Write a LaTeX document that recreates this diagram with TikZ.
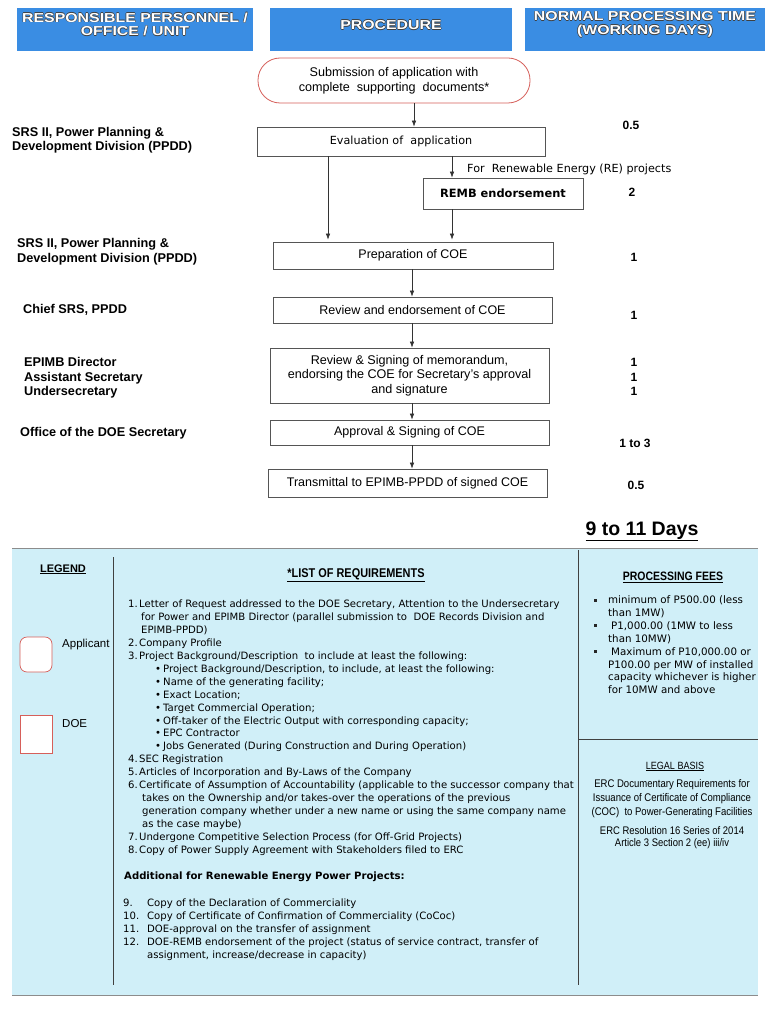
\documentclass[tikz,border=0pt]{standalone}
\usepackage{fontspec}
\setmainfont{Liberation Sans}
\newfontfamily\nar[FakeStretch=0.86]{Liberation Sans}
\newfontfamily\wid[FakeStretch=1.22]{Liberation Sans}
\newfontfamily\tah{DejaVu Sans}
\usetikzlibrary{arrows.meta}
\definecolor{hdrblue}{HTML}{3A8DE3}
\definecolor{panelblue}{HTML}{D0EFF8}
\definecolor{ovalred}{HTML}{D65F5A}
\definecolor{boxline}{HTML}{555555}
\newcommand\outl[1]{\leavevmode\rlap{\hspace{-0.6pt}\color{black!75}#1}\rlap{\hspace{0.6pt}\color{black!75}#1}\rlap{\raisebox{0.6pt}{\color{black!75}#1}}\rlap{\raisebox{-0.6pt}{\color{black!75}#1}}{\color{white}#1}}
\tikzset{
  hdrbox/.style={fill=hdrblue, draw=none, inner sep=0pt, minimum height=43pt},
  hdrtxt/.style={inner sep=0pt, align=center, font=\wid\bfseries\fontsize{13}{13.5}\selectfont},
  stepbox/.style={draw=boxline, line width=0.8pt, inner sep=0pt, align=center, fill=white},
  arr/.style={-{Latex[length=6pt,width=4.5pt]}, line width=0.6pt, draw=black!80},
  who/.style={anchor=base west, inner sep=0pt, align=left, font=\bfseries\fontsize{12.7}{14.5}\selectfont},
  days/.style={anchor=base, inner sep=0pt, align=center, font=\bfseries\fontsize{12}{14.5}\selectfont},
  boxtxt/.style={font=\fontsize{12.5}{14.5}\selectfont},
  tahtxt/.style={font=\tah\fontsize{11.2}{13}\selectfont},
  req/.style={anchor=base west, inner sep=0pt, align=left, font=\tah\fontsize{10.1}{12.95}\selectfont},
  legbox/.style={draw=ovalred, line width=0.7pt, fill=white, inner sep=0pt, minimum width=32pt},
  divider/.style={draw=black!75, line width=0.8pt},
}
\begin{document}
\begin{tikzpicture}[x=1pt,y=-1pt]
\useasboundingbox (0,0) rectangle (768,1024);
\fill[white] (0,0) rectangle (768,1024);

% header
\node[hdrbox, minimum width=236pt] (h1) at (135,29.5) {};
\node[hdrbox, minimum width=242pt] (h2) at (391,29.5) {};
\node[hdrbox, minimum width=240pt] (h3) at (645,29.5) {};
\node[hdrtxt] (h1t) at ([yshift=5pt]h1.center) {\outl{RESPONSIBLE PERSONNEL /}\\\outl{OFFICE / UNIT}};
\node[hdrtxt] (h2t) at ([yshift=4.5pt]h2.center) {\outl{PROCEDURE}};
\node[hdrtxt] (h3t) at ([yshift=5pt]h3.center) {\outl{NORMAL PROCESSING TIME}\\\outl{(WORKING DAYS)}};

% flow
\node[draw=ovalred, line width=0.8pt, rounded corners=22pt, minimum width=272pt, minimum height=45pt, inner sep=0pt, align=center, font=\fontsize{12.6}{15}\selectfont] (sub) at (394,80.5) {Submission of application with\\complete\ \ supporting\ \ documents*};
\node[stepbox, tahtxt, minimum width=288pt, minimum height=29pt] (eval) at (401,141.5) {Evaluation of\ \ application};
\node[stepbox, font=\tah\bfseries\fontsize{11.4}{13}\selectfont, minimum width=160pt, minimum height=31pt] (remb) at (503,193.5) {REMB endorsement};
\node[stepbox, boxtxt, minimum width=280pt, minimum height=27pt] (prep) at (413,255.5) {Preparation of COE};
\node[stepbox, boxtxt, minimum width=279pt, minimum height=26pt] (rev) at (412.5,310) {Review and endorsement of COE};
\node[stepbox, boxtxt, font=\fontsize{12.6}{14.5}\selectfont, minimum width=279pt, minimum height=55pt] (memo) at (409.5,375.5) {Review \& Signing of memorandum,\\endorsing the COE for Secretary's approval\\and signature};
\node[stepbox, boxtxt, minimum width=279pt, minimum height=25pt] (appr) at (409.5,432.5) {Approval \& Signing of COE};
\node[stepbox, boxtxt, minimum width=279pt, minimum height=28pt] (trans) at (407.5,483) {Transmittal to EPIMB-PPDD of signed COE};

\node[anchor=base west, inner sep=0pt, tahtxt] (relabel) at (467,173) {For\ \ Renewable Energy (RE) projects};

\coordinate (ax) at (414,0);
\coordinate (lx) at (328,0);
\coordinate (rx) at (452,0);
\coordinate (cx) at (412,0);
\draw[arr] (sub.south -| ax) -- (eval.north -| ax);
\draw[arr] (eval.south -| rx) -- (remb.north -| rx);
\draw[arr] (eval.south -| lx) -- ([yshift=2pt]prep.north -| lx);
\draw[arr] (remb.south -| rx) -- ([yshift=2pt]prep.north -| rx);
\draw[arr] (prep.south -| cx) -- (rev.north -| cx);
\draw[arr] (rev.south -| cx) -- (memo.north -| cx);
\draw[arr] (memo.south -| cx) -- (appr.north -| cx);
\draw[arr] (appr.south -| cx) -- (trans.north -| cx);

% responsible persons (base = last line)
\node[who] (w1) at (12,151) {SRS II, Power Planning \&\\Development Division (PPDD)};
\node[who] (w2) at (17,262) {SRS II, Power Planning \&\\Development Division (PPDD)};
\node[who] (w3) at (23,313.5) {Chief SRS, PPDD};
\node[who] (w4) at (24,395.5) {EPIMB Director\\Assistant Secretary\\Undersecretary};
\node[who] (w5) at (20,436.5) {Office of the DOE Secretary};

% days
\node[days] (d1) at (631,129.5) {0.5};
\node[days] (d2) at (632,196.5) {2};
\node[days] (d3) at (634,261.5) {1};
\node[days] (d4) at (634,319.5) {1};
\node[days] (d5) at (634,395.5) {1\\1\\1};
\node[days] (d6) at (635,447.5) {1 to 3};
\node[days] (d7) at (636,489.5) {0.5};
\node[anchor=base, inner sep=0pt, font=\bfseries\fontsize{19.5}{24}\selectfont] (total) at (642,535) {\underline{9 to 11 Days}};

% bottom panel
\fill[panelblue] (12,548) rectangle (758,995);
\draw[black!45, line width=1pt] (12,548) -- (758,548);
\draw[black!45, line width=1pt] (12,995) -- (758,995);
\draw[divider] (113,557) -- (113,985);
\draw[divider] (578,550) -- (578,985);
\draw[divider] (578,739) -- (758,739);

% legend
\node[anchor=base, inner sep=0pt, font=\bfseries\fontsize{11}{13}\selectfont] (leg) at (63,572) {\underline{LEGEND}};
\node[legbox, rounded corners=7pt, minimum height=35pt] (lapp) at (36,654.5) {};
\node[anchor=base west, inner sep=0pt, font=\fontsize{11.5}{13}\selectfont] (tapp) at (62,647) {Applicant};
\node[legbox, minimum height=38pt] (ldoe) at (36,734) {};
\node[anchor=base west, inner sep=0pt, font=\fontsize{11.5}{13}\selectfont] (tdoe) at (62,727) {DOE};

% requirements (base = last line)
\node[anchor=base, inner sep=0pt, font=\nar\bfseries\fontsize{12.7}{14}\selectfont] (lreq) at (356,577) {\underline{*LIST OF REQUIREMENTS}};
\node[req] (reqs) at (128,853.5) {%
\makebox[11pt][l]{1.}Letter of Request addressed to the DOE Secretary, Attention to the Undersecretary\\
\hspace{13pt}for Power and EPIMB Director (parallel submission to\ \ DOE Records Division and\\
\hspace{13pt}EPIMB-PPDD)\\
\makebox[11pt][l]{2.}Company Profile\\
\makebox[11pt][l]{3.}Project Background/Description\ \ to include at least the following:\\
\hspace{27pt}\makebox[8pt][l]{•}Project Background/Description, to include, at least the following:\\
\hspace{27pt}\makebox[8pt][l]{•}Name of the generating facility;\\
\hspace{27pt}\makebox[8pt][l]{•}Exact Location;\\
\hspace{27pt}\makebox[8pt][l]{•}Target Commercial Operation;\\
\hspace{27pt}\makebox[8pt][l]{•}Off-taker of the Electric Output with corresponding capacity;\\
\hspace{27pt}\makebox[8pt][l]{•}EPC Contractor\\
\hspace{27pt}\makebox[8pt][l]{•}Jobs Generated (During Construction and During Operation)\\
\makebox[11pt][l]{4.}SEC Registration\\
\makebox[11pt][l]{5.}Articles of Incorporation and By-Laws of the Company\\
\makebox[11pt][l]{6.}Certificate of Assumption of Accountability (applicable to the successor company that\\
\hspace{14pt}takes on the Ownership and/or takes-over the operations of the previous\\
\hspace{14pt}generation company whether under a new name or using the same company name\\
\hspace{14pt}as the case maybe)\\
\makebox[11pt][l]{7.}Undergone Competitive Selection Process (for Off-Grid Projects)\\
\makebox[11pt][l]{8.}Copy of Power Supply Agreement with Stakeholders filed to ERC};
\node[anchor=base west, inner sep=0pt, font=\tah\bfseries\fontsize{10.1}{12}\selectfont] (addh) at (124,879.5) {Additional for Renewable Energy Power Projects:};
\node[req] (reqs2) at (123,958.5) {%
\makebox[24pt][l]{9.}Copy of the Declaration of Commerciality\\
\makebox[24pt][l]{10.}Copy of Certificate of Confirmation of Commerciality (CoCoc)\\
\makebox[24pt][l]{11.}DOE-approval on the transfer of assignment\\
\makebox[24pt][l]{12.}DOE-REMB endorsement of the project (status of service contract, transfer of\\
\hspace{24pt}assignment, increase/decrease in capacity)};

% fees
\node[anchor=base, inner sep=0pt, font=\nar\bfseries\fontsize{12.2}{14}\selectfont] (lfee) at (673,580.5) {\underline{PROCESSING FEES}};
\node[anchor=base west, inner sep=0pt, align=left, font=\tah\fontsize{10.3}{12.9}\selectfont] (fees) at (608,693.8) {%
minimum of P500.00 (less\\
than 1MW)\\
\hspace{3pt}P1,000.00 (1MW to less\\
than 10MW)\\
\hspace{3pt}Maximum of P10,000.00 or\\
P100.00 per MW of installed\\
capacity whichever is higher\\
for 10MW and above};
\fill[black!85] (593.5,598.5) rectangle ++(3,3);
\fill[black!85] (593.5,624.3) rectangle ++(3,3);
\fill[black!85] (593.5,650.1) rectangle ++(3,3);

% legal basis
\node[anchor=base, inner sep=0pt, font=\nar\fontsize{10.5}{12}\selectfont] (llegal) at (675,769) {\underline{LEGAL BASIS}};
\node[anchor=base, inner sep=0pt, align=center, font=\nar\fontsize{11.1}{14}\selectfont] (legal1) at (672,815.5) {ERC Documentary Requirements for\\Issuance of Certificate of Compliance\\(COC)\ \ to Power-Generating Facilities};
\node[anchor=base, inner sep=0pt, align=center, font=\nar\fontsize{11}{11.5}\selectfont] (legal2) at (672,846) {ERC Resolution 16 Series of 2014\\Article 3 Section 2 (ee) iii/iv};
\end{tikzpicture}
\end{document}
